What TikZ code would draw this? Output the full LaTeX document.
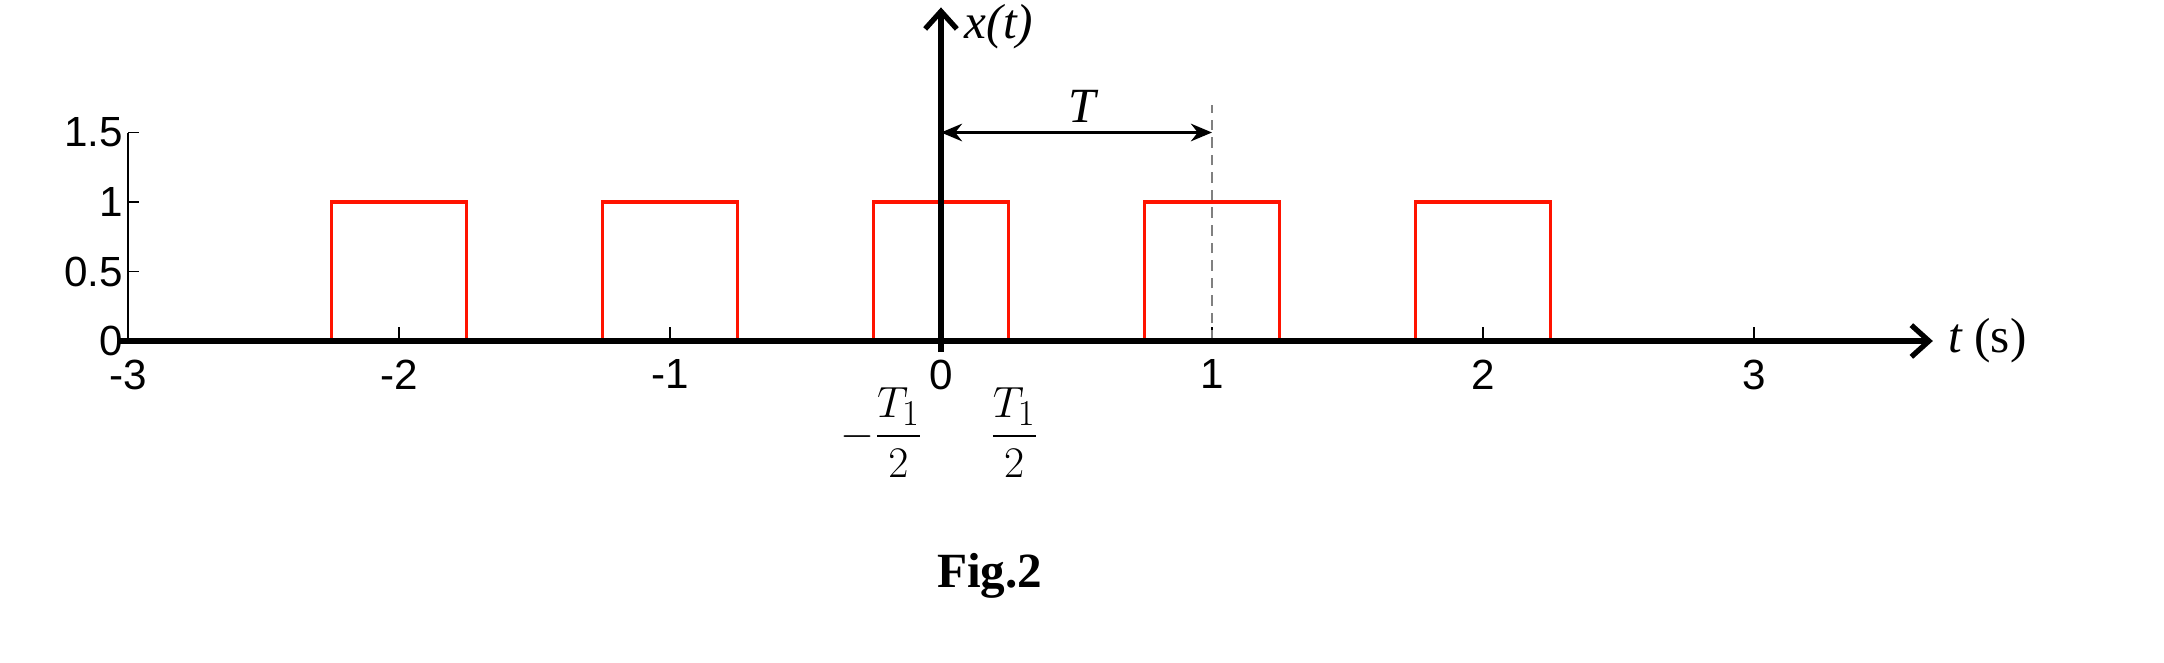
\documentclass[tikz,border=0pt]{standalone}
\usepackage{fontspec}
\usepackage{amsmath}
\setmainfont{Liberation Serif}
\newfontfamily\tickfont{Liberation Sans}
\usetikzlibrary{arrows.meta}
\begin{document}
\begin{tikzpicture}
\useasboundingbox (-18.82,-6.42) rectangle (24.46,6.82);
\tikzset{
  ticklab/.style={font=\tickfont\fontsize{24}{24}\selectfont, inner sep=1pt},
  serlab/.style={font=\fontsize{28}{28}\selectfont, inner sep=1pt},
  pulse/.style={draw=red!85!orange, line width=1.8pt},
  mainaxis/.style={line width=3pt, -{Straight Barb[length=10pt,width=18pt,line width=3pt]}}
}
\begin{scope}[x=5.42cm,y=2.78cm]
  \draw[line width=0.8pt] (-3,0) -- (-3,1.5);
  \foreach \v/\l in {0/0,0.5/0.5,1/1,1.5/1.5}{
    \draw[line width=0.8pt] (-3,\v) -- (-2.96,\v);
    \node[ticklab, anchor=east] (y\l) at (-3.01,\v) {\l};
  }
  \foreach \p in {-2,-1,0,1,2}{
    \draw[pulse] (\p-0.25,0) -- (\p-0.25,1) -- (\p+0.25,1) -- (\p+0.25,0);
  }
  \foreach \t in {-2,-1,1,2,3}{
    \draw[line width=0.8pt] (\t,0) -- (\t,0.1);
    \node[ticklab, anchor=north] (xt\t) at (\t,-0.12) {\t};
  }
  \node[ticklab, anchor=north] (xtm3) at (-3,-0.12) {-3};
  \node[ticklab, anchor=north] (xt0) at (0,-0.12) {0};
  \draw[gray, dash pattern=on 6pt off 4pt, line width=1.2pt] (1,0) -- (1,1.7);
  \coordinate (ax0) at (-3.03,0);
  \coordinate (ax1) at (3.66,0);
  \draw[mainaxis] (ax0) -- (ax1);
  \coordinate (ay0) at (0,-0.08);
  \coordinate (ay1) at (0,2.4);
  \draw[mainaxis] (ay0) -- (ay1);
  \coordinate (ta) at (0,1.5);
  \coordinate (tb) at (1,1.5);
  \draw[line width=1.6pt, {Stealth[length=12pt,width=10pt]}-{Stealth[length=12pt,width=10pt]}] (ta) -- (tb);
  \node[serlab, anchor=south] (Tlab) at (0.52,1.56) {\itshape T};
  \node[serlab, anchor=west] (xlab) at (0.08,2.26) {\itshape x(t)};
  \node[serlab, anchor=west] (tlab) at (3.71,0.0) {\itshape t\upshape\ (s)};
  \node[serlab, anchor=north] (fl) at (-0.22,-0.32) {$-\dfrac{T_1}{2}$};
  \node[serlab, anchor=north] (fr) at (0.27,-0.32) {$\dfrac{T_1}{2}$};
  \node[font=\bfseries\fontsize{28}{28}\selectfont] (fig) at (0.18,-1.69) {Fig.2};
\end{scope}
\end{tikzpicture}
\end{document}
